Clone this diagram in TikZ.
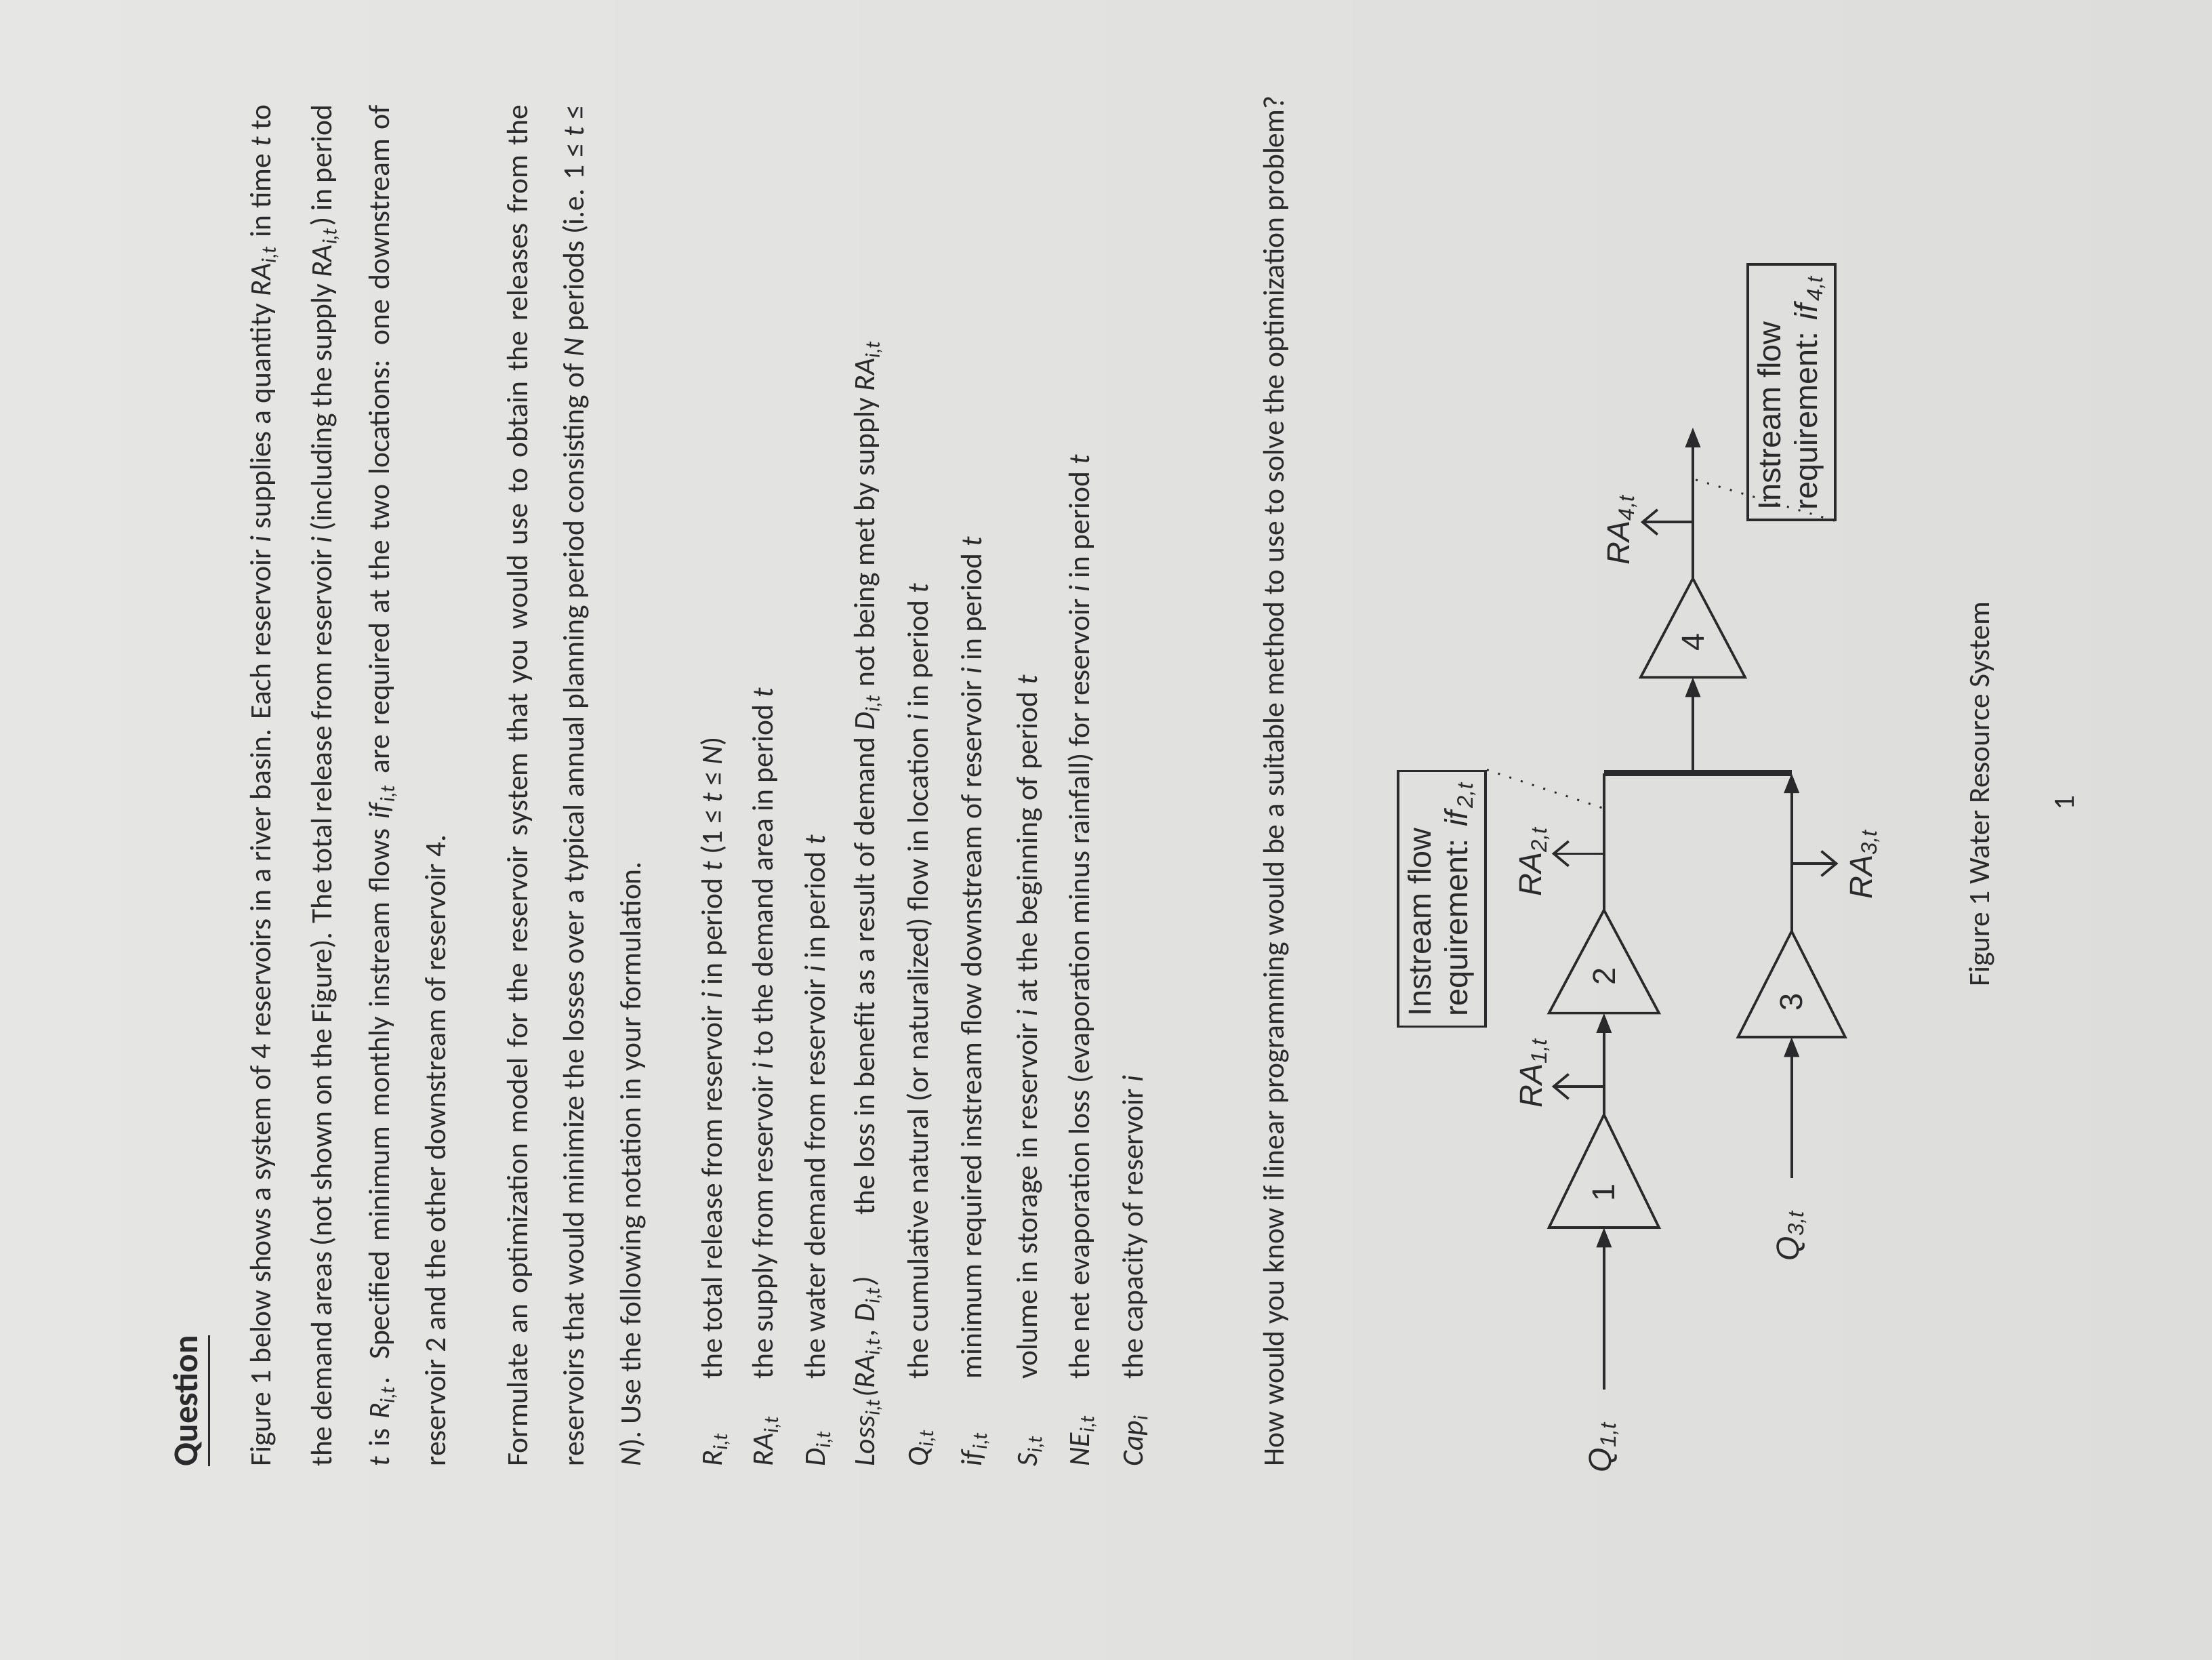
\documentclass[tikz,border=0pt]{standalone}
\usepackage{fontspec}
\setmainfont{Carlito}
\newfontfamily\arialf{Liberation Sans}
\usetikzlibrary{arrows.meta}
\definecolor{paper}{HTML}{DDDEDC}
\definecolor{paperl}{HTML}{E6E6E4}
\definecolor{ink}{HTML}{2A2A2C}
\newcommand{\ms}[1]{\textsubscript{\itshape #1}}
\tikzset{
 tl/.style={rotate=90,anchor=base west,inner sep=0,text=ink,font=\fontsize{5.95}{7}\selectfont},
 jl/.style={tl,text width=96.5mm,align=justify},
 fl/.style={rotate=90,inner sep=0,text=ink,font=\arialf\fontsize{6.4}{7.4}\selectfont},
 ln/.style={draw=ink,line width=0.5pt},
 ar/.style={ln,-{Triangle[length=4pt,width=3pt]}},
 oa/.style={ln,-{Straight Barb[length=3pt,width=5pt]}},
}
\newcommand{\jline}[1]{{\parfillskip=0pt #1\par}}
\begin{document}
\begin{tikzpicture}[x=0.1mm,y=-0.1mm]
\shade[left color=paperl,right color=paper] (0,0) rectangle (1568,1176);
\useasboundingbox (0,0) rectangle (1568,1176);
\node[tl,font=\bfseries\fontsize{7}{8}\selectfont] (q) at (140,1040) {\underline{Question}};
\node[jl] (p1) at (192,1040) {\jline{Figure 1 below shows a system of 4 reservoirs in a river basin. Each reservoir \textit{i} supplies a quantity \textit{RA}\ms{i,t} in time \textit{t} to}};
\node[jl] (p2) at (235,1040) {\jline{the demand areas (not shown on the Figure). The total release from reservoir \textit{i} (including the supply \textit{RA}\ms{i,t}) in period}};
\node[jl] (p3) at (276,1040) {\jline{\textit{t} is \textit{R}\ms{i,t}. Specified minimum monthly instream flows \textit{if}\ms{i,t} are required at the two locations: one downstream of}};
\node[tl] (p4) at (316,1040) {reservoir 2 and the other downstream of reservoir 4.};
\node[jl] (f1) at (374,1040) {\jline{Formulate an optimization model for the reservoir system that you would use to obtain the releases from the}};
\node[jl] (f2) at (414,1040) {\jline{reservoirs that would minimize the losses over a typical annual planning period consisting of \textit{N} periods (i.e. 1 ≤ \textit{t} ≤}};
\node[tl] (f3) at (454,1040) {\textit{N}). Use the following notation in your formulation.};
\node[tl] (s1) at (512,1040) {\textit{R}\ms{i,t}};
\node[tl] (d1) at (512,978) {the total release from reservoir \textit{i} in period \textit{t} (1 ≤ \textit{t} ≤ \textit{N})};
\node[tl] (s2) at (548,1040) {\textit{RA}\ms{i,t}};
\node[tl] (d2) at (548,978) {the supply from reservoir \textit{i} to the demand area in period \textit{t}};
\node[tl] (s3) at (585,1040) {\textit{D}\ms{i,t}};
\node[tl] (d3) at (585,978) {the water demand from reservoir \textit{i} in period \textit{t}};
\node[tl] (s4) at (620,1040) {\textit{Loss}\ms{i,t}\textit{(RA}\ms{i,t}\textit{, D}\ms{i,t}\textit{)}};
\node[tl] (d4) at (620,862) {the loss in benefit as a result of demand \textit{D}\ms{i,t} not being met by supply \textit{RA}\ms{i,t}};
\node[tl] (s5) at (658,1040) {\textit{Q}\ms{i,t}};
\node[tl] (d5) at (658,978) {the cumulative natural (or naturalized) flow in location \textit{i} in period \textit{t}};
\node[tl] (s6) at (696,1040) {\textit{if}\ms{i,t}};
\node[tl] (d6) at (696,978) {minimum required instream flow downstream of reservoir \textit{i} in period \textit{t}};
\node[tl] (s7) at (735,1040) {\textit{S}\ms{i,t}};
\node[tl] (d7) at (735,978) {volume in storage in reservoir \textit{i} at the beginning of period \textit{t}};
\node[tl] (s8) at (772,1040) {\textit{NE}\ms{i,t}};
\node[tl] (d8) at (772,978) {the net evaporation loss (evaporation minus rainfall) for reservoir \textit{i} in period \textit{t}};
\node[tl] (s9) at (810,1040) {\textit{Cap}\ms{i}};
\node[tl] (d9) at (810,978) {the capacity of reservoir \textit{i}};
\node[tl] (hq) at (910,1040) {How would you know if linear programming would be a suitable method to use to solve the optimization problem?};
\node[tl] (cap) at (1410,700) {Figure 1 Water Resource System};
\node[tl] (pg) at (1470,575) {1};
% figure
\node[fl,anchor=east] (q1) at (1137,985) {\textit{Q}\ms{1,t}\kern6pt};
\coordinate (q1s) at (1137,985);
\coordinate (t1b) at (1137,870);
\coordinate (t1a) at (1137,790);
\coordinate (r1) at (1137,770);
\coordinate (t2b) at (1137,718);
\coordinate (t2a) at (1137,645);
\coordinate (r2) at (1137,605);
\coordinate (j1) at (1137,548);
\coordinate (j3) at (1270,548);
\coordinate (jm) at (1200,548);
\coordinate (q3s) at (1270,835);
\coordinate (t3b) at (1270,735);
\coordinate (t3a) at (1270,660);
\coordinate (r3) at (1270,612);
\coordinate (t4b) at (1200,480);
\coordinate (t4a) at (1200,410);
\coordinate (r4) at (1200,370);
\coordinate (e4) at (1200,303);
\draw[ar] (q1s) -- (t1b);
\draw[ln] (1098,870) -- (1176,870) -- (t1a) -- cycle;
\node[fl] (n1) at (1137,845) {1};
\draw[ar] (t1a) -- (t2b);
\draw[oa] (r1) -- (1100,770);
\node[fl] (l1) at (1088,760) {\textit{RA}\ms{1,t}};
\draw[ln] (1098,718) -- (1176,718) -- (t2a) -- cycle;
\node[fl] (n2) at (1137,692) {2};
\draw[ln] (t2a) -- (j1);
\draw[oa] (r2) -- (1100,605);
\node[fl] (l2) at (1088,610) {\textit{RA}\ms{2,t}};
\node[fl,anchor=east] (q3) at (1270,835) {\textit{Q}\ms{3,t}\kern6pt};
\draw[ar] (q3s) -- (t3b);
\draw[ln] (1232,735) -- (1308,735) -- (t3a) -- cycle;
\node[fl] (n3) at (1270,710) {3};
\draw[ar] (t3a) -- (j3);
\draw[oa] (r3) -- (1303,612);
\node[fl] (l3) at (1322,612) {\textit{RA}\ms{3,t}};
\draw[line width=1.2pt,ink] (j1) -- (j3);
\draw[ar] (jm) -- (t4b);
\draw[ln] (1163,480) -- (1237,480) -- (t4a) -- cycle;
\node[fl] (n4) at (1200,455) {4};
\draw[ar] (t4a) -- (e4);
\draw[oa] (r4) -- (1163,370);
\node[fl] (l4) at (1150,375) {\textit{RA}\ms{4,t}};
\node[fl,draw=ink,line width=0.5pt,inner sep=2pt,align=left,anchor=center] (b2) at (1022,637) {Instream flow\\requirement: \textit{if}\ms{2,t}};
\node[fl,draw=ink,line width=0.5pt,inner sep=2pt,align=left,anchor=center] (b4) at (1270,278) {Instream flow\\requirement: \textit{if}\ms{4,t}};
\coordinate (dd2) at (1137,573);
\coordinate (dd4) at (1202,340);
\draw[ink,dotted] (b2.south east) -- (dd2);
\draw[ink,dotted] (dd4) -- (b4.south west);
\end{tikzpicture}
\end{document}
